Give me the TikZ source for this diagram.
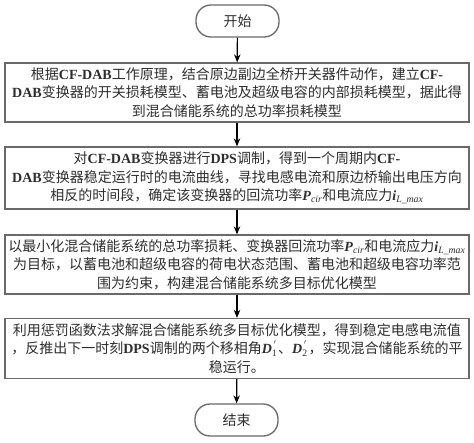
\documentclass[tikz,border=0pt]{standalone}
\usepackage{fontspec}
\setmainfont{Noto Sans CJK SC}
\newfontfamily\latf{Liberation Serif}
\usetikzlibrary{arrows.meta}
\newcommand\latb[1]{{\latf\bfseries #1}}
\newcommand\varit[2]{{\latf\bfseries\itshape #1}\textsubscript{\latf\itshape #2}}
\newcommand\dvar[1]{{\latf\bfseries\itshape D}\rlap{\textsubscript{\latf #1}}\textsuperscript{\latf\,$'$}\hspace{0.1em}}
\definecolor{txt}{HTML}{2E2E2E}
\definecolor{bord}{HTML}{6A6A6A}
\begin{document}
\begin{tikzpicture}[x=1pt,y=-1pt,
  stepbox/.style={draw=bord, line width=1.3pt, minimum width=464pt, align=center,
    text=txt, font=\fontsize{14pt}{18.4pt}\selectfont, inner sep=0pt},
  term/.style={draw=bord, line width=1.3pt, rounded corners=15pt, minimum width=83pt,
    minimum height=32pt, text=txt, font=\fontsize{14pt}{18pt}\selectfont, inner sep=0pt},
  flow/.style={draw=black, line width=1.2pt, -{Stealth[length=8pt,width=6.5pt]}}]
\useasboundingbox (0,0) rectangle (474,442);
\fill[white] (0,0) rectangle (474,442);
\node[term] (s) at (237.5,21) {开始};
\node[stepbox, minimum height=59pt] (b1) at (237,92.5) {根据\latb{CF-DAB}工作原理，结合原边副边全桥开关器件动作，建立\latb{CF-}\\\latb{DAB}变换器的开关损耗模型、蓄电池及超级电容的内部损耗模型，据此得\\到混合储能系统的总功率损耗模型};
\node[stepbox, minimum height=62pt] (b2) at (237,178) {对\latb{CF-DAB}变换器进行\latb{DPS}调制，得到一个周期内\latb{CF-}\\\latb{DAB}变换器稳定运行时的电流曲线，寻找电感电流和原边桥输出电压方向\\相反的时间段，确定该变换器的回流功率\varit{P}{cir}和电流应力\varit{i}{L\_max}};
\node[stepbox, minimum height=59pt] (b3) at (237,264.5) {以最小化混合储能系统的总功率损耗、变换器回流功率\varit{P}{cir}和电流应力\varit{i}{L\_max}\\为目标，以蓄电池和超级电容的荷电状态范围、蓄电池和超级电容功率范\\围为约束，构建混合储能系统多目标优化模型};
\node[stepbox, minimum height=60pt] (b4) at (237,348.5) {利用惩罚函数法求解混合储能系统多目标优化模型，得到稳定电感电流值\\，反推出下一时刻\latb{DPS}调制的两个移相角\dvar{1}、\dvar{2}，实现混合储能系统的平\\稳运行。};
\node[term] (e) at (236.5,420) {结束};
\draw[flow] (s) -- (b1);
\draw[flow] (b1) -- (b2);
\draw[flow] (b2) -- (b3);
\draw[flow] (b3) -- (b4);
\draw[flow] (b4) -- (e);
\end{tikzpicture}
\end{document}
